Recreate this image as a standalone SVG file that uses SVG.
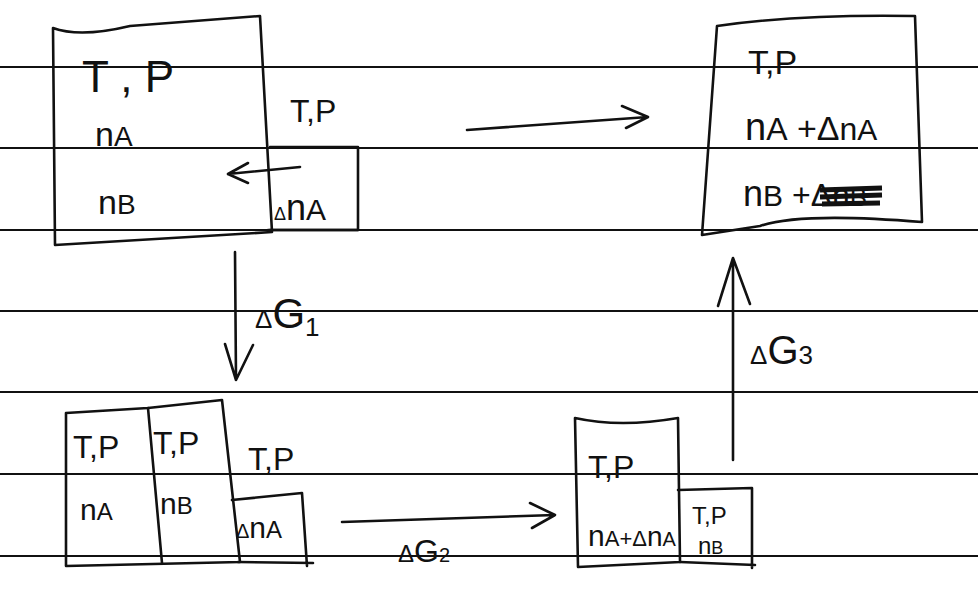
<svg xmlns="http://www.w3.org/2000/svg" width="978" height="593" viewBox="0 0 978 593">
<style>
.rule{stroke:#111;stroke-width:2.2;fill:none}
.box{stroke:#111;stroke-width:2.6;fill:none;stroke-linecap:round;stroke-linejoin:round}
.arr{stroke:#111;stroke-width:2.6;fill:none;stroke-linecap:round;stroke-linejoin:round}
text{font-family:"Liberation Sans","DejaVu Sans",sans-serif;fill:#111}
.big{font-size:44px}
.mid{font-size:34px}
.sm{font-size:32px}
.xs{font-size:24px}
</style>
<rect width="978" height="593" fill="#fff"/>
<g id="paper-lines">
<path class="rule" d="M0 67 L978 67"/>
<path class="rule" d="M0 148 L978 148"/>
<path class="rule" d="M0 230 L978 230"/>
<path class="rule" d="M0 311 L978 311"/>
<path class="rule" d="M0 392 L978 392"/>
<path class="rule" d="M0 474 L978 474"/>
<path class="rule" d="M0 556 L978 556"/>
</g>
<g id="state1">
<path class="box" d="M53 28 Q80 38 130 26 L260 16 L272 232 L55 245 Z"/>
<path class="box" d="M270 147 L358 147 L358 230 L270 230"/>
<path class="box" d="M268 230 L358 230" stroke-width="4"/>
<text class="big" x="82" y="92">T , P</text>
<text class="mid" x="95" y="146">n<tspan font-size="28">A</tspan></text>
<text class="mid" x="98" y="214">n<tspan font-size="28">B</tspan></text>
<text class="sm" x="290" y="122">T,P</text>
<text x="274" y="220"><tspan font-size="18">Δ</tspan><tspan font-size="36">n</tspan><tspan font-size="30">A</tspan></text>
<path class="arr" d="M300 167 L228 174 M248 163 L228 174 L248 183"/>
</g>
<g id="state2">
<path class="box" d="M66 413 L148 408 L222 400 L240 562 L66 566 Z"/>
<path class="box" d="M148 408 L162 563"/>
<path class="box" d="M232 500 L302 493 L307 566 M238 562 L313 563"/>
<text class="sm" x="73" y="458">T,P</text>
<text class="sm" x="153" y="454">T,P</text>
<text class="sm" x="248" y="470">T,P</text>
<text x="80" y="520"><tspan font-size="30">n</tspan><tspan font-size="24">A</tspan></text>
<text x="160" y="514"><tspan font-size="30">n</tspan><tspan font-size="24">B</tspan></text>
<text x="236" y="538"><tspan font-size="20">Δ</tspan><tspan font-size="30">n</tspan><tspan font-size="24">A</tspan></text>
</g>
<g id="state3">
<path class="box" d="M575 418 Q620 428 678 418 L680 562 L578 567 Z"/>
<path class="box" d="M678 490 L752 488 L752 568 M680 562 L755 565"/>
<text class="sm" x="588" y="478">T,P</text>
<text x="588" y="546"><tspan font-size="30">n</tspan><tspan font-size="22">A</tspan><tspan font-size="22">+Δ</tspan><tspan font-size="28">n</tspan><tspan font-size="20">A</tspan></text>
<text class="xs" x="692" y="524">T,P</text>
<text x="698" y="554"><tspan font-size="24">n</tspan><tspan font-size="18">B</tspan></text>
</g>
<g id="state4">
<path class="box" d="M717 26 Q800 14 915 16 L922 222 Q800 212 760 226 L702 235 Z"/>
<text x="748" y="74" font-size="34">T,P</text>
<text x="745" y="140"><tspan font-size="38">n</tspan><tspan font-size="32">A</tspan><tspan font-size="34"> +Δ</tspan><tspan font-size="32">n</tspan><tspan font-size="30">A</tspan></text>
<text x="743" y="206"><tspan font-size="36">n</tspan><tspan font-size="30">B</tspan><tspan font-size="32"> +Δn</tspan><tspan font-size="26">B</tspan></text>
<path d="M820 190 L882 188 M820 197 L882 195 M822 204 L880 203" stroke="#111" stroke-width="5" fill="none"/>
</g>
<g id="connectors">
<path class="arr" d="M467 130 L648 117 M622 106 L648 117 L626 128"/>
<path class="arr" d="M235 252 L236 380 M225 344 L236 380 L253 345"/>
<path class="arr" d="M342 522 L555 515 M530 503 L555 515 L532 528"/>
<path class="arr" d="M733 460 L733 258 M718 306 L733 258 L750 304"/>
</g>
<g id="labels">
<text x="255" y="328"><tspan font-size="26">Δ</tspan><tspan font-size="42">G</tspan><tspan font-size="26" dy="8">1</tspan></text>
<text x="398" y="562"><tspan font-size="24">Δ</tspan><tspan font-size="32">G</tspan><tspan font-size="20">2</tspan></text>
<text x="750" y="364"><tspan font-size="26">Δ</tspan><tspan font-size="40">G</tspan><tspan font-size="26">3</tspan></text>
</g>
</svg>
